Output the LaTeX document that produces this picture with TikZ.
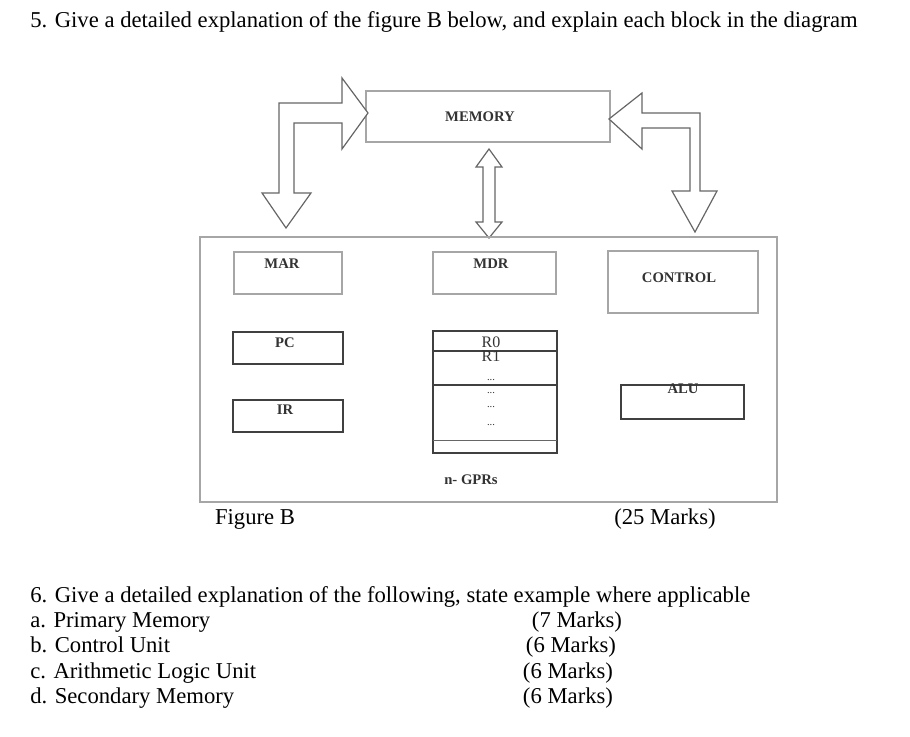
\documentclass[tikz,border=0pt]{standalone}
\usepackage{fontspec}
\setmainfont{Liberation Serif}
\begin{document}
\begin{tikzpicture}[x=0.75pt,y=-0.75pt,
  box/.style={draw=gray!70,line width=0.9pt},
  blk/.style={draw=black!75,line width=0.9pt},
  arr/.style={draw=gray!80!black,line width=0.9pt,fill=white},
  lab/.style={font=\fontsize{11}{12}\selectfont\bfseries,text=black!80,inner sep=0pt},
  txt/.style={font=\fontsize{17}{19}\selectfont,anchor=west,inner sep=0pt,text height=12pt,text depth=4pt},
  mk/.style={font=\fontsize{17}{19}\selectfont,inner sep=0pt,text height=12pt,text depth=4pt}]
\useasboundingbox (0,0) rectangle (910,737);
\node[txt] (q5) at (30,22) {5. Give a detailed explanation of the figure B below, and explain each block in the diagram};
% memory
\draw[box] (366,91) rectangle (610,142);
\node[lab] (mem) at (480,117) {MEMORY};
% arrows
\draw[arr] (368,113) -- (342,78) -- (342,103) -- (279,103) -- (279,193) -- (262,193) -- (286,228) -- (311,193) -- (294,193) -- (294,123) -- (342,123) -- (342,149) -- cycle;
\draw[arr] (609,119) -- (642,93) -- (642,113) -- (700,113) -- (700,191) -- (717,191) -- (695,232) -- (672,191) -- (690,191) -- (690,128) -- (642,128) -- (642,149) -- cycle;
\draw[arr] (489,149) -- (502,167) -- (495,167) -- (495,222) -- (502,222) -- (489,238) -- (476,222) -- (483,222) -- (483,167) -- (476,167) -- cycle;
% cpu
\draw[box] (200,237) rectangle (777,502);
\draw[box] (234,252) rectangle (342,294);
\node[lab] (mar) at (282,264) {MAR};
\draw[box] (433,252) rectangle (556,294);
\node[lab] (mdr) at (491,264) {MDR};
\draw[box] (608,251) rectangle (758,313);
\node[lab] (ctl) at (679,278) {CONTROL};
\draw[blk] (233,332) rectangle (343,364);
\node[lab] (pc) at (285,343) {PC};
\draw[blk] (233,400) rectangle (343,432);
\node[lab] (ir) at (285,410) {IR};
\draw[blk] (621,385) rectangle (744,419);
\node[lab] (alu) at (683,389) {ALU};
% registers
\draw[blk] (433,331) rectangle (557,453);
\draw[blk] (433,351) -- (557,351);
\draw[blk] (433,385) -- (557,385);
\draw[draw=black!60,line width=0.6pt] (433,440) -- (557,440);
\node[lab,font=\fontsize{12}{13}\selectfont] (r0) at (491,342) {R0};
\node[lab,font=\fontsize{12}{13}\selectfont] (r1) at (491,356) {R1};
\foreach \y in {380,393,407,425} \node[lab,font=\fontsize{8}{9}\selectfont] at (491,\y) {...};
\node[lab] (gpr) at (471,480) {n- GPRs};
\node[mk] (fig) at (255,519) {Figure B};
\node[mk] (m25) at (665,519) {(25 Marks)};
\node[txt] (q6) at (30,597) {6. Give a detailed explanation of the following, state example where applicable};
\node[txt] (a) at (30,622) {a. Primary Memory};
\node[txt] (b) at (30,647) {b. Control Unit};
\node[txt] (c) at (30,673) {c. Arithmetic Logic Unit};
\node[txt] (d) at (30,698) {d. Secondary Memory};
\node[mk] (ma) at (577,622) {(7 Marks)};
\node[mk] (mb) at (571,647) {(6 Marks)};
\node[mk] (mc) at (568,673) {(6 Marks)};
\node[mk] (md) at (568,698) {(6 Marks)};
\end{tikzpicture}
\end{document}
